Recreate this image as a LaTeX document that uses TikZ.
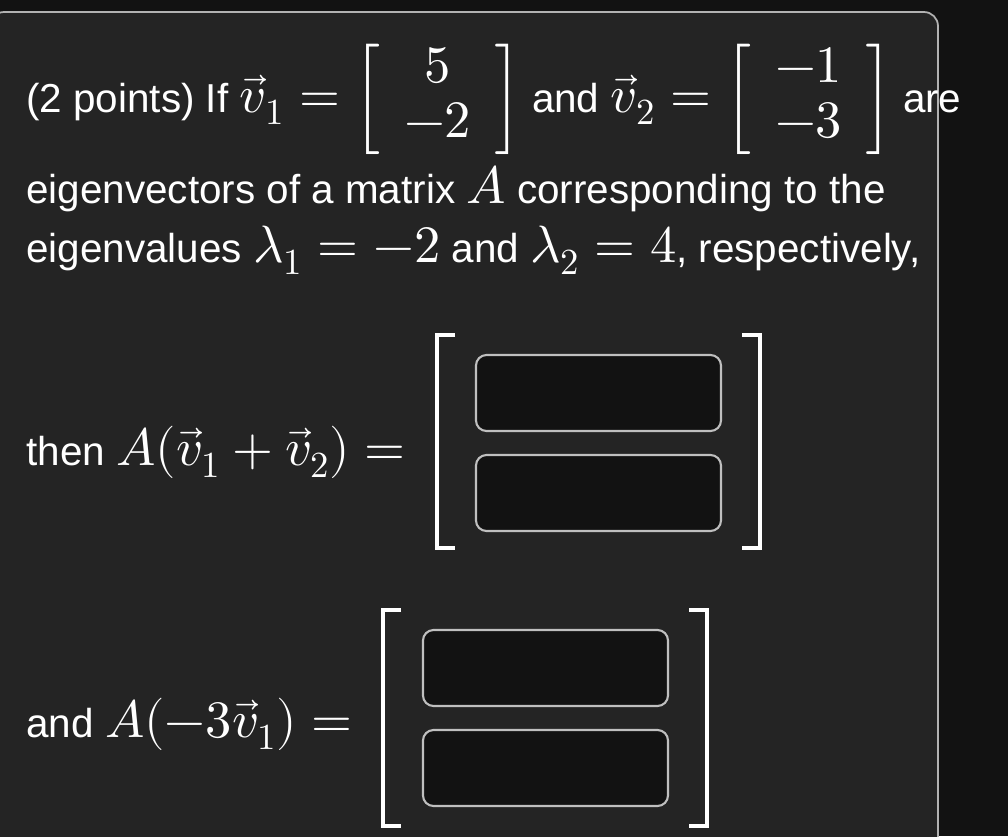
\documentclass[tikz,border=0pt]{standalone}
\usepackage{amsmath}
\usepackage{fontspec}
\setmainfont{Liberation Sans}
\usepackage{unicode-math}
\setmathfont{Latin Modern Math}[Scale=1.3]
\newcommand{\colv}[2]{\left[\renewcommand{\arraystretch}{1.15}\begin{array}{c}\;#1\;\\ \;#2\;\end{array}\right]}
\begin{document}
\begin{tikzpicture}[x=0.02cm,y=-0.02cm,
  txt/.style={anchor=base west,text=white,inner sep=0pt,font=\fontsize{23}{27}\selectfont},
  ansbox/.style={draw=white!75!black,line width=1.2pt,fill=black!93,rounded corners=6pt},
  brk/.style={draw=white,line width=2.2pt}]
\useasboundingbox (0,0) rectangle (1008,836);
\fill[black!93] (0,0) rectangle (1008,836);
\draw[fill=black!86,draw=white!70!black,line width=1pt,rounded corners=8pt] (-10,12) rectangle (938,860);
\node[txt] (l1) at (26,112) {(2 points) If $\vec{v}_1=\colv{5}{-2}$ and $\vec{v}_2=\colv{-1}{-3}$ are};
\node[txt] (l2) at (26,203) {eigenvectors of a matrix $A$ corresponding to the};
\node[txt] (l3) at (26,262) {eigenvalues $\lambda_1=-2$ and $\lambda_2=4$, respectively,};
\node[txt] (l4) at (26,465) {then $A(\vec{v}_1+\vec{v}_2)=$};
\node[txt] (l5) at (26,737) {and $A(-3\vec{v}_1)=$};
\draw[brk] (455,335) -- (437,335) -- (437,548) -- (455,548);
\draw[brk] (742,335) -- (760,335) -- (760,548) -- (742,548);
\node[ansbox,minimum width=245*0.02cm,minimum height=76*0.02cm] (b1) at (598.5,393) {};
\node[ansbox,minimum width=245*0.02cm,minimum height=76*0.02cm] (b2) at (598.5,493) {};
\draw[brk] (401,610) -- (383,610) -- (383,826) -- (401,826);
\draw[brk] (689,610) -- (707,610) -- (707,826) -- (689,826);
\node[ansbox,minimum width=245*0.02cm,minimum height=76*0.02cm] (b3) at (545.5,668) {};
\node[ansbox,minimum width=245*0.02cm,minimum height=76*0.02cm] (b4) at (545.5,768) {};
\end{tikzpicture}
\end{document}
